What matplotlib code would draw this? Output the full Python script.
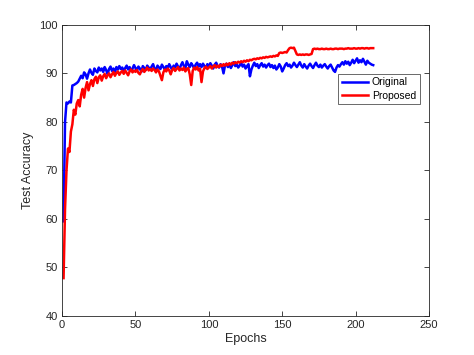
import matplotlib
matplotlib.use("Agg")
import matplotlib.pyplot as plt
import numpy as np

original = [
    59.5, 80.0, 84.0, 83.8, 84.2, 84.0, 87.5, 87.6, 87.8, 88.0,
    88.3, 88.9, 89.5, 89.0, 90.2, 89.8, 88.9, 90.0, 90.8, 90.1,
    89.7, 91.0, 90.5, 90.2, 91.2, 90.6, 91.0, 90.3, 91.3, 90.7,
    89.8, 90.9, 91.4, 90.5, 91.0, 90.2, 91.3, 90.8, 91.5, 90.9,
    91.2, 90.4, 91.1, 91.6, 90.8, 91.3, 90.5, 91.0, 91.7, 91.1,
    90.6, 91.4, 91.0, 90.3, 91.5, 91.1, 90.7, 91.6, 91.2, 90.8,
    91.4, 91.9, 91.0, 90.5, 91.6, 91.2, 90.9, 91.8, 91.3, 90.8,
    91.5, 91.1, 91.9, 91.3, 90.7, 91.6, 91.2, 92.0, 91.4, 90.9,
    91.7, 92.3, 91.5, 91.1, 92.5, 91.8, 91.3, 92.1, 91.6, 91.0,
    91.8, 92.2, 91.4, 91.9, 91.3, 92.0, 91.5, 91.1, 91.9, 91.4,
    92.1, 91.6, 91.0, 91.8, 92.2, 91.5, 91.2, 91.9, 91.4, 90.0,
    91.6, 92.0, 91.3, 91.8, 91.1, 91.7, 92.3, 91.5, 91.9, 91.2,
    91.6, 92.2, 91.4, 91.8, 91.0, 91.5, 91.9, 89.4, 90.8, 91.6,
    92.2, 91.5, 91.9, 91.1, 91.7, 92.1, 91.4, 91.8, 91.2, 91.7,
    92.0, 91.3, 91.7, 91.1, 91.6, 90.8, 91.2, 91.9, 91.4, 90.4,
    91.0, 91.7, 92.1, 91.5, 91.8, 91.2, 91.6, 92.2, 91.7, 91.3,
    91.8, 92.3, 91.6, 91.2, 91.9, 91.4, 91.0, 91.6, 92.0, 91.5,
    91.1, 91.7, 92.2, 91.6, 91.3, 91.8, 91.2, 91.6, 91.9, 91.4,
    91.0, 91.5, 91.8, 91.2, 90.6, 90.3, 91.2, 91.7, 91.4, 91.9,
    92.3, 91.8, 92.5, 92.0, 92.4, 91.7, 92.2, 92.8, 92.1, 92.6,
    93.1, 92.2, 92.7, 92.3, 93.0, 92.4, 91.8, 92.6, 92.2, 92.0,
    91.8, 91.7,
]

proposed = [
    47.8, 62.0, 70.0, 74.5, 73.8, 78.0, 79.5, 82.5, 81.5, 83.8,
    84.5, 83.2, 85.6, 86.8, 85.0, 87.0, 88.2, 86.5, 87.8, 88.6,
    87.4, 88.8, 89.3, 88.0, 89.2, 89.6, 88.5, 89.4, 89.9, 89.0,
    89.6, 90.0, 89.2, 89.8, 90.3, 89.5, 90.1, 90.4, 89.7, 90.2,
    90.5, 89.9, 90.6, 90.1, 89.6, 90.4, 90.8, 90.2, 90.6, 90.3,
    90.7, 90.1, 89.8, 90.5, 90.9, 90.3, 90.7, 91.2, 90.6, 90.9,
    90.5, 91.0, 90.7, 90.2, 90.8, 90.4, 89.5, 88.6, 90.2, 90.8,
    90.4, 91.0, 90.6, 89.8, 90.7, 91.1, 90.5, 90.9, 91.3, 90.6,
    91.0, 90.7, 91.2, 90.4, 90.9, 91.1, 89.8, 87.6, 90.5, 91.2,
    90.8, 91.3, 90.6, 91.0, 88.2, 90.4, 91.1, 91.4, 90.9, 91.2,
    91.5, 91.0, 91.4, 91.7, 91.2, 91.6, 91.3, 91.8, 91.5, 91.9,
    91.6, 92.0, 91.7, 92.1, 91.8, 92.2, 92.0, 92.3, 92.1, 92.4,
    92.2, 92.5, 92.3, 92.6, 92.4, 92.7, 92.5, 92.8, 92.7, 92.9,
    93.0, 92.9, 93.1, 93.0, 93.2, 93.1, 93.3, 93.2, 93.4, 93.3,
    93.4, 93.5, 93.4, 93.6, 93.5, 93.7, 93.6, 94.2, 94.3, 94.2,
    94.3, 94.4, 94.3, 94.8, 95.2, 95.3, 95.2, 95.3, 94.6, 93.9,
    93.8, 93.9, 93.8, 93.9, 93.8, 93.9, 93.9, 93.8, 93.9, 94.0,
    95.0, 95.1, 95.0, 95.1, 95.0, 95.0, 95.1, 95.0, 95.0, 95.1,
    95.0, 95.0, 95.1, 95.0, 95.0, 95.1, 95.1, 95.0, 95.1, 95.1,
    95.1, 95.0, 95.1, 95.1, 95.2, 95.1, 95.1, 95.1, 95.2, 95.1,
    95.1, 95.2, 95.1, 95.2, 95.2, 95.1, 95.2, 95.2, 95.1, 95.2,
    95.2, 95.2,
]

epochs = np.arange(1, len(original) + 1)

plt.rcParams['font.family'] = ['Liberation Sans', 'DejaVu Sans']

fig = plt.figure(figsize=(4.74, 3.55), dpi=100)
ax = fig.add_axes([0.131, 0.110, 0.774, 0.820])

ax.plot(epochs, original, color='#0000ff', lw=1.8, label='Original')
ax.plot(epochs, proposed, color='#ff0000', lw=1.8, label='Proposed')

ax.set_xlim(0, 250)
ax.set_ylim(40, 100)
ax.set_xticks([0, 50, 100, 150, 200, 250])
ax.set_yticks([40, 50, 60, 70, 80, 90, 100])

gray = '#262626'
for s in ax.spines.values():
    s.set_color(gray)
    s.set_linewidth(0.6)
ax.tick_params(direction='in', top=True, right=True, length=3.5, width=0.6,
               colors=gray, labelsize=8, pad=3)
ax.set_xlabel('Epochs', fontsize=9, color=gray, labelpad=2)
ax.set_ylabel('Test Accuracy', fontsize=9, color=gray, labelpad=4)

leg = ax.legend(loc='upper right', bbox_to_anchor=(0.975, 0.832), borderaxespad=0,
                fontsize=7.5, frameon=True, fancybox=False, handlelength=2.5,
                handletextpad=0.4, borderpad=0.35, labelspacing=0.3)
leg.get_frame().set_edgecolor(gray)
leg.get_frame().set_linewidth(0.6)

fig.savefig('out.png', dpi=100)
